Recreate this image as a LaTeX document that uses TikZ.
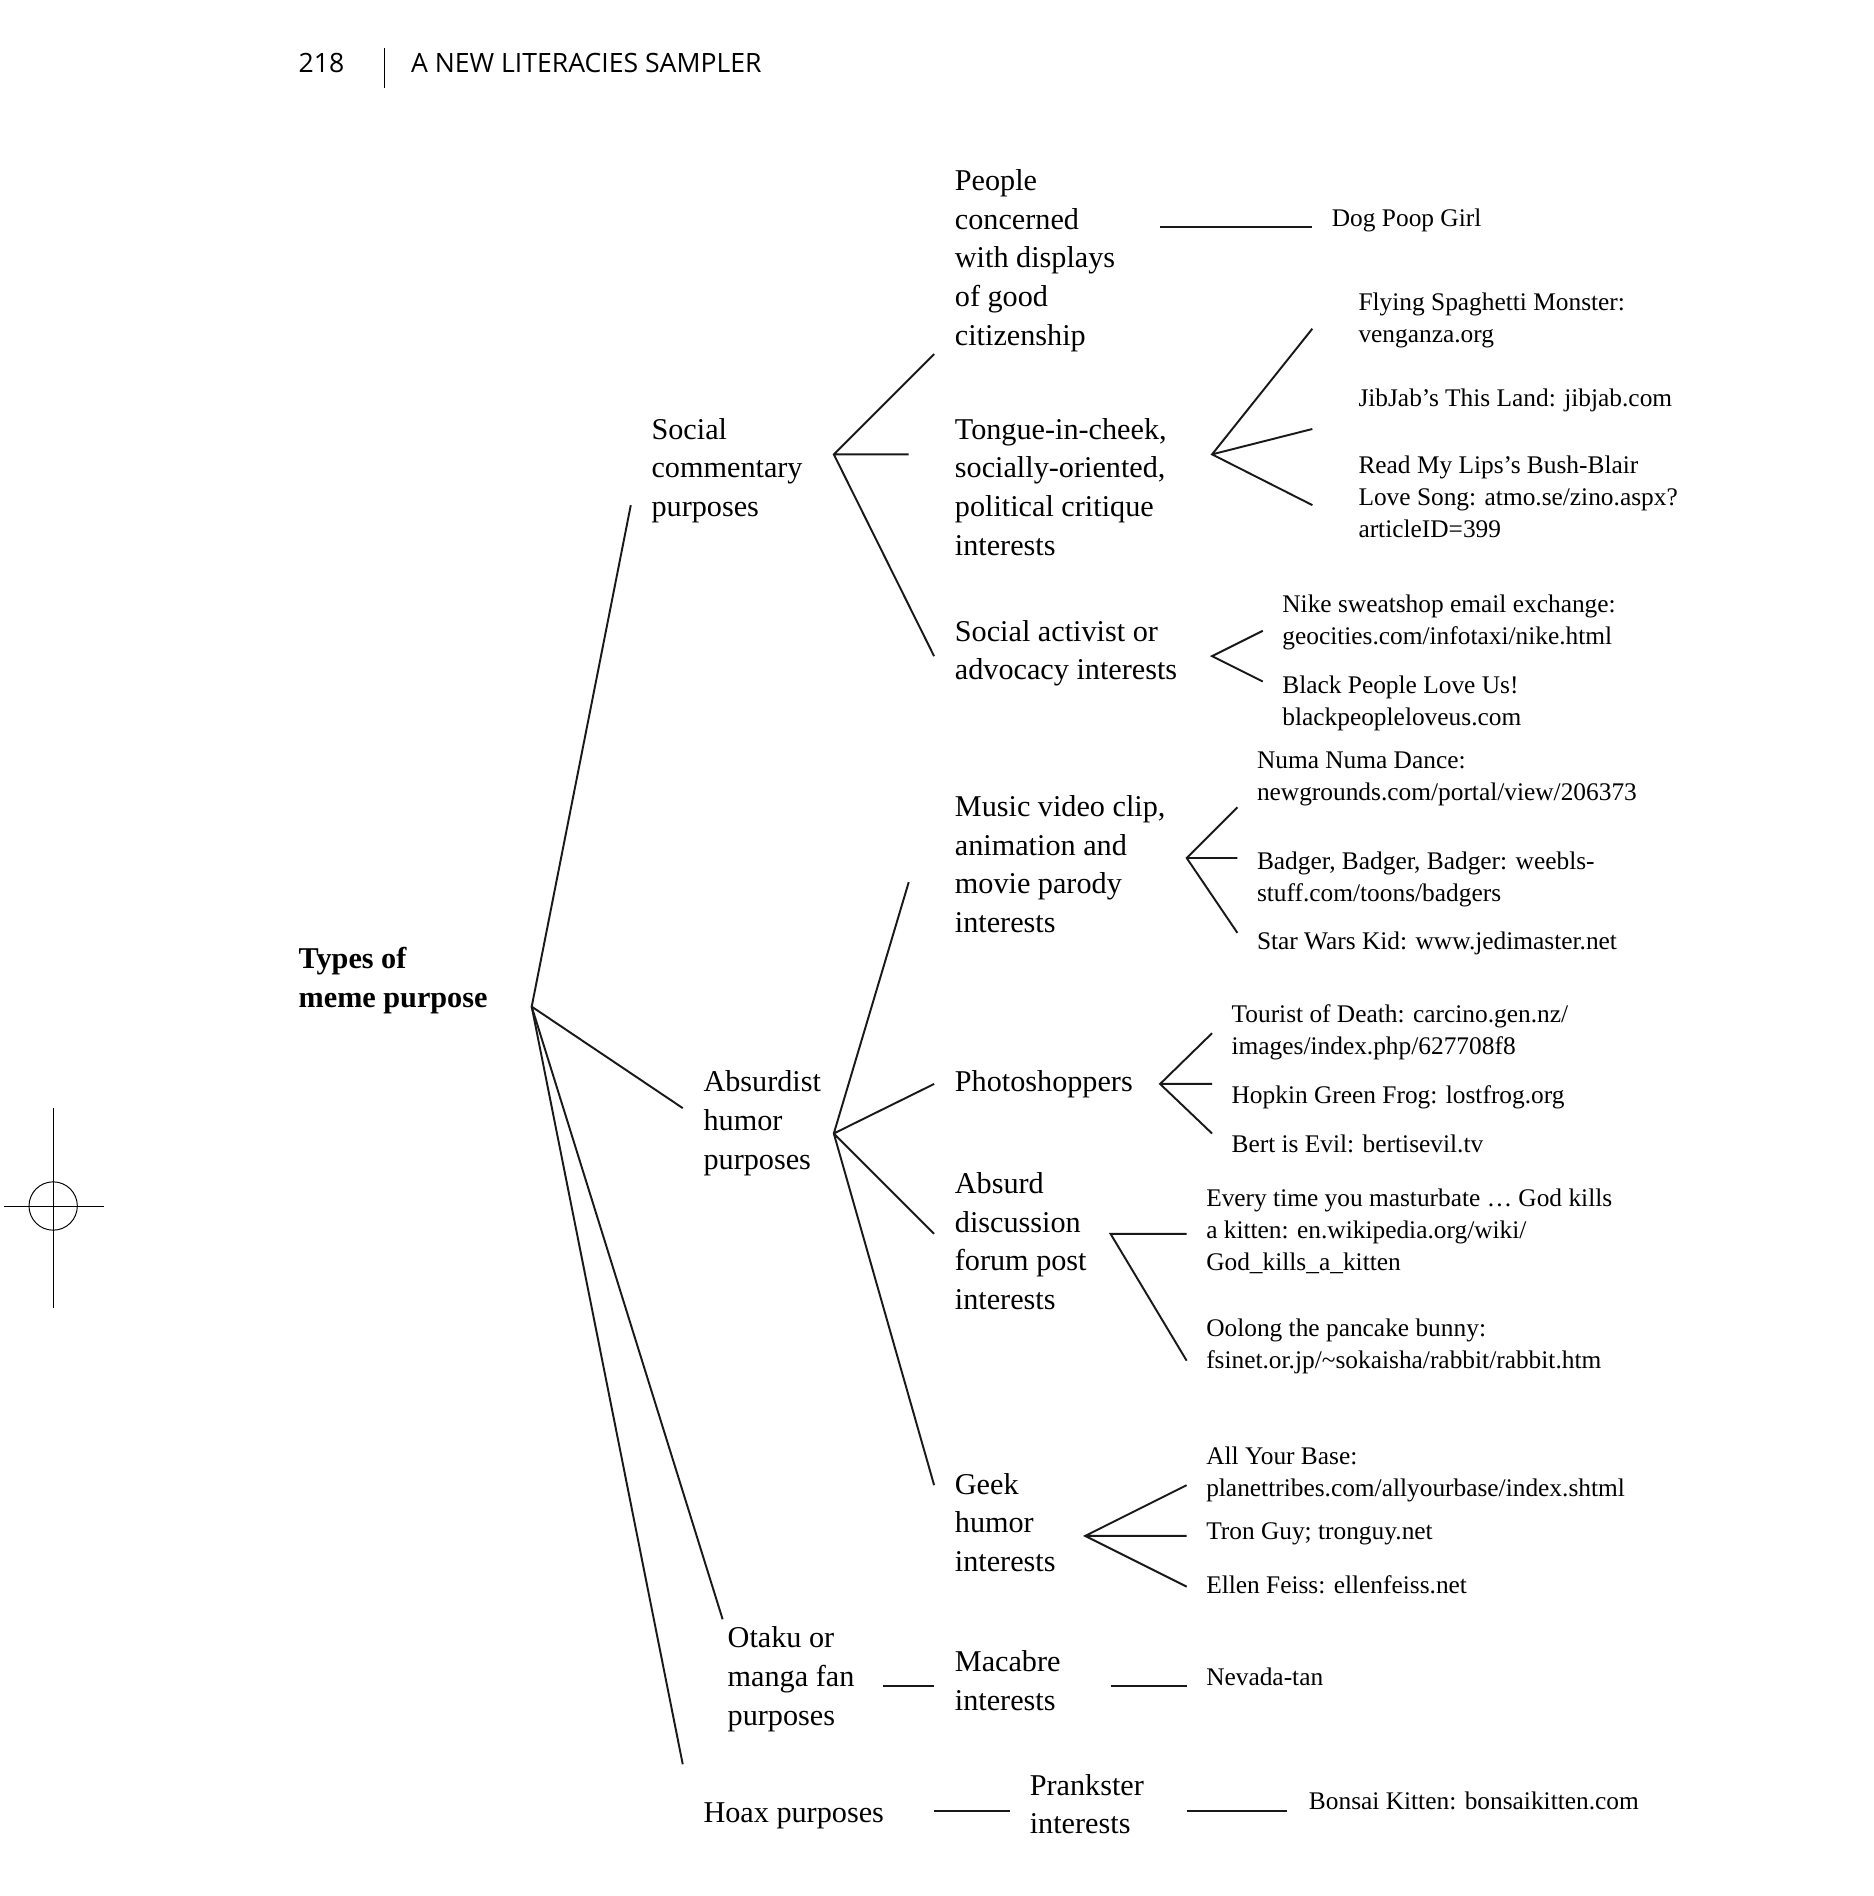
\documentclass[tikz,border=0pt]{standalone}
\usepackage{fontspec}
\setmainfont{Liberation Serif}
\newfontfamily\hdr{Open Sans}
\begin{document}
\begin{tikzpicture}[x=1pt,y=-1pt,
  big/.style={anchor=north west,inner sep=0pt,align=left,font=\fontsize{25}{32}\selectfont},
  sm/.style={anchor=north west,inner sep=0pt,align=left,font=\fontsize{21}{26.5}\selectfont},
  ln/.style={line width=1.6pt,black!90}]
\useasboundingbox (0,0) rectangle (1550,1569);
% header
\node[anchor=north west,inner sep=0pt,font=\hdr\fontsize{22}{26}\selectfont] (pg) at (247,44) {218};
\node[anchor=north west,inner sep=0pt,font=\hdr\fontsize{22}{26}\selectfont] (ttl) at (340,44) {A NEW LITERACIES SAMPLER};
\draw[line width=1pt] (318,40) -- (318,73);
% crosshair
\draw[line width=0.8pt] (44,998) circle (20);
\draw[line width=0.8pt] (44,917) -- (44,1082) (3,998) -- (86,998);
% nodes
\node[big,font=\bfseries\fontsize{25}{32}\selectfont] (root) at (247,784) {Types of\\meme purpose};
\node[big] (soc) at (539,346) {Social\\commentary\\purposes};
\node[big] (abs) at (582,886) {Absurdist\\humor\\purposes};
\node[big] (ota) at (602,1346) {Otaku or\\manga fan\\purposes};
\node[big] (hoax) at (582,1492) {Hoax purposes};
\node[big] (ppl) at (790,140) {People\\concerned\\with displays\\of good\\citizenship};
\node[big] (tng) at (790,346) {Tongue-in-cheek,\\socially-oriented,\\political critique\\interests};
\node[big] (act) at (790,513) {Social activist or\\advocacy interests};
\node[big] (mus) at (790,658) {Music video clip,\\animation and\\movie parody\\interests};
\node[big] (pho) at (790,886) {Photoshoppers};
\node[big] (adi) at (790,970) {Absurd\\discussion\\forum post\\interests};
\node[big] (gek) at (790,1219) {Geek\\humor\\interests};
\node[big] (mac) at (790,1366) {Macabre\\interests};
\node[big] (prk) at (852,1468) {Prankster\\interests};
\node[sm] (dog) at (1102,173) {Dog Poop Girl};
\node[sm] (fly) at (1124,242) {Flying Spaghetti Monster:\\venganza.org};
\node[sm] (jib) at (1124,322) {JibJab’s This Land: jibjab.com};
\node[sm] (rml) at (1124,377) {Read My Lips’s Bush-Blair\\Love Song: atmo.se/zino.aspx?\\articleID=399};
\node[sm] (nik) at (1061,492) {Nike sweatshop email exchange:\\geocities.com/infotaxi/nike.html};
\node[sm] (blk) at (1061,559) {Black People Love Us!\\blackpeopleloveus.com};
\node[sm] (num) at (1040,622) {Numa Numa Dance:\\newgrounds.com/portal/view/206373};
\node[sm] (bad) at (1040,705) {Badger, Badger, Badger: weebls-\\stuff.com/toons/badgers};
\node[sm] (stw) at (1040,771) {Star Wars Kid: www.jedimaster.net};
\node[sm] (tou) at (1019,831) {Tourist of Death: carcino.gen.nz/\\images/index.php/627708f8};
\node[sm] (hop) at (1019,898) {Hopkin Green Frog: lostfrog.org};
\node[sm] (ber) at (1019,939) {Bert is Evil: bertisevil.tv};
\node[sm] (evr) at (998,984) {Every time you masturbate … God kills\\a kitten: en.wikipedia.org/wiki/\\God\_kills\_a\_kitten};
\node[sm] (ool) at (998,1091) {Oolong the pancake bunny:\\fsinet.or.jp/\textasciitilde sokaisha/rabbit/rabbit.htm};
\node[sm] (ayb) at (998,1197) {All Your Base:\\planettribes.com/allyourbase/index.shtml};
\node[sm] (trn) at (998,1260) {Tron Guy; tronguy.net};
\node[sm] (ell) at (998,1304) {Ellen Feiss: ellenfeiss.net};
\node[sm] (nev) at (998,1380) {Nevada-tan};
\node[sm] (bon) at (1083,1483) {Bonsai Kitten: bonsaikitten.com};
% connector points
\coordinate (r0) at (440,833);
\coordinate (s0) at (690,376);
\coordinate (t0) at (1003,376);
\coordinate (a0) at (1003,543);
\coordinate (b0) at (690,938);
\coordinate (m0) at (982,710);
\coordinate (p0) at (960,897);
\coordinate (d0) at (919,1021);
\coordinate (g0) at (898,1271);
% connectors
\draw[ln] (522,418) -- (r0) -- (565,917);
\draw[ln] (r0) -- (598,1340);
\draw[ln] (r0) -- (565,1460);
\draw[ln] (773,293) -- (s0) -- (773,543) (s0) -- (752,376);
\draw[ln] (960,188) -- (1086,188);
\draw[ln] (1086,272) -- (t0) -- (1086,418) (t0) -- (1086,355);
\draw[ln] (1045,522) -- (a0) -- (1045,564);
\draw[ln] (752,730) -- (b0) -- (773,1229) (b0) -- (773,897) (b0) -- (773,1021);
\draw[ln] (1024,668) -- (m0) -- (1024,772) (m0) -- (1024,710);
\draw[ln] (1003,855) -- (p0) -- (1003,938) (p0) -- (1003,897);
\draw[ln] (982,1021) -- (d0) -- (982,1126);
\draw[ln] (982,1229) -- (g0) -- (982,1313) (g0) -- (982,1271);
\draw[ln] (731,1395) -- (773,1395);
\draw[ln] (919,1395) -- (982,1395);
\draw[ln] (773,1499) -- (836,1499);
\draw[ln] (982,1499) -- (1065,1499);
\end{tikzpicture}
\end{document}
